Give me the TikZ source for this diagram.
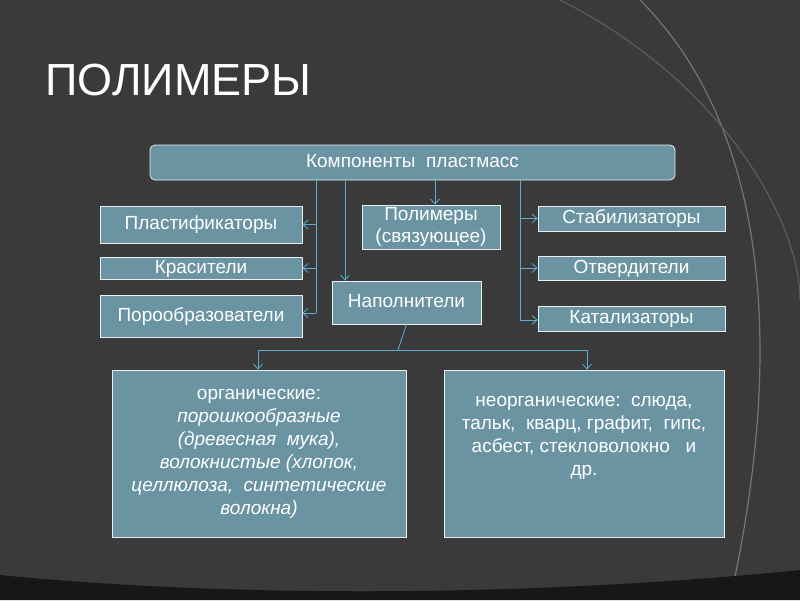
\documentclass[tikz,border=0pt]{standalone}
\usepackage{fontspec}
\setmainfont{Liberation Sans}
\usetikzlibrary{arrows.meta}
\definecolor{bg}{HTML}{3A3A3A}
\definecolor{bx}{HTML}{6A94A2}
\definecolor{ln}{HTML}{5AAFD0}
\tikzset{
 box/.style={draw=white!85!bx,line width=0.8pt,fill=bx,text=white,font=\fontsize{19}{23}\selectfont,align=center,inner sep=0pt},
 one/.style={text height=13.5pt,text depth=3.5pt},
 con/.style={draw=ln,line width=0.8pt},
 arr/.style={con,-{Straight Barb[length=5pt,width=9pt]}}
}
\begin{document}
\begin{tikzpicture}[x=1pt,y=-1pt]
\useasboundingbox (0,0) rectangle (800,600);
\fill[bg] (0,0) rectangle (800,600);
\draw[white!30!bg,line width=1.2pt] (640,0) .. controls (760,120) and (790,330) .. (730,600);
\draw[white!20!bg,line width=1pt] (560,0) .. controls (720,80) and (800,220) .. (800,300);
\fill[black!60!bg] (0,575) .. controls (200,595) and (500,600) .. (800,570) -- (800,600) -- (0,600) -- cycle;
\node[text=white,anchor=west,font=\fontsize{45}{54}\selectfont] (t) at (42,80) {ПОЛИМЕРЫ};
\node[box,one,rounded corners=5pt,minimum width=525,minimum height=35] (top) at (412.5,162.5) {Компоненты\ \ пластмасс};
\node[box,one,minimum width=202,minimum height=37] (pl) at (201,224.5) {Пластификаторы};
\node[box,one,minimum width=202,minimum height=22] (kr) at (201,268) {Красители};
\node[box,one,minimum width=202,minimum height=42] (po) at (201,316) {Порообразователи};
\node[box,minimum width=138,minimum height=44,font=\fontsize{19}{22}\selectfont] (pm) at (431,227) {Полимеры\\(связующее)};
\node[box,one,minimum width=149,minimum height=43] (na) at (406.5,302.5) {Наполнители};
\node[box,one,minimum width=187,minimum height=25] (st) at (631.5,218.5) {Стабилизаторы};
\node[box,one,minimum width=187,minimum height=24] (ot) at (631.5,268) {Отвердители};
\node[box,one,minimum width=187,minimum height=25] (ka) at (631.5,318.5) {Катализаторы};
\node[box,minimum width=294,minimum height=167,font=\fontsize{19}{23}\selectfont] (org) at (259,453.5) {органические:\\\itshape порошкообразные\\\itshape (древесная\ \ мука),\\\itshape волокнистые (хлопок,\\\itshape целлюлоза,\ \ синтетические\\\itshape волокна)};
\node[box,minimum width=280,minimum height=167,font=\fontsize{19}{23}\selectfont] (neorg) at (584,453.5) {неорганические:\ \ слюда,\\тальк,\ \ кварц, графит,\ \ гипс,\\асбест, стекловолокно\ \ \ и\\др.\\[12pt]};
\coordinate (l) at (316,180);
\coordinate (r) at (520,180);
\draw[con] (l) -- (316,313);
\draw[arr] (316,224.5) -- (pl.east);
\draw[arr] (316,268) -- (kr.east);
\draw[arr] (316,313) -- (po.east |- 0,313);
\draw[arr] (345,180) -- (na.north -| 345,0);
\draw[arr] (435,180) -- (pm.north -| 435,0);
\draw[con] (r) -- (520,320);
\draw[arr] (520,218.5) -- (st.west);
\draw[arr] (520,268) -- (ot.west);
\draw[arr] (520,320) -- (ka.west |- 0,320);
\coordinate (m) at (398,350);
\draw[con] (na.south) -- (m);
\draw[arr] (m) -- (258,350) -- (org.north -| 258,0);
\draw[arr] (m) -- (587,350) -- (neorg.north -| 587,0);
\end{tikzpicture}
\end{document}
